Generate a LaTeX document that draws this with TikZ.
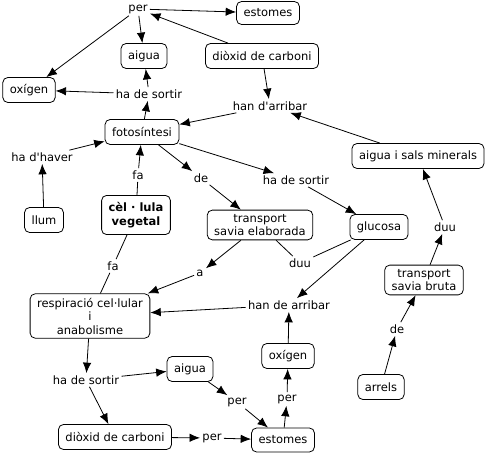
\documentclass[tikz,border=0pt]{standalone}
\usepackage{fontspec}
\setmainfont{DejaVu Sans}
\usetikzlibrary{arrows.meta}

\begin{document}
\begin{tikzpicture}[x=1pt,y=-1pt,line width=0.8pt,>={Latex[length=10.5pt,width=8.5pt]},
    every node/.style={font=\fontsize{11.5}{13.5}\selectfont},
    concept/.style={draw,rounded corners=5pt,align=center,inner xsep=7pt,inner ysep=4pt,minimum height=25pt},
    linkword/.style={inner sep=2pt,align=center}]
                \useasboundingbox (0,0) rectangle (487,454);
                \node[linkword] (perA) at (138,9) {per};
                \node[concept,minimum height=23pt] (estomesA) at (268,13) {estomes};
                \node[concept] (aiguaA) at (144,56) {aigua};
                \node[concept] (dioxidA) at (262,56) {diòxid de carboni};
                \node[concept] (oxigenA) at (29,90) {oxígen};
                \node[linkword] (sortirA) at (149,94) {ha de sortir};
                \node[linkword] (arribarA) at (270,106) {han d\textquotesingle arribar};
                \node[concept] (fotosintesi) at (142,132) {fotosíntesi};
                \node[concept] (sals) at (418,156) {aigua i sals minerals};
                \node[linkword] (haver) at (42,157) {ha d\textquotesingle haver};
                \node[linkword] (faA) at (138,175) {fa};
                \node[linkword] (deA) at (201,178) {de};
                \node[linkword] (sortirB) at (296,180) {ha de sortir};
                \node[concept] (llum) at (44,220) {llum};
                \node[concept,font=\fontsize{11.5}{13.5}\selectfont\bfseries,inner ysep=7pt] (cellula) at (136,215) {cèl · lula\\vegetal};
                \node[concept] (elaborada) at (260,225) {transport\\savia elaborada};
                \node[concept] (glucosa) at (379,227) {glucosa};
                \node[linkword] (duuB) at (445,227) {duu};
                \node[linkword] (duuA) at (300,263) {duu};
                \node[concept] (bruta) at (424,280) {transport\\savia bruta};
                \node[linkword] (faB) at (113,266) {fa};
                \node[linkword] (aA) at (200,273) {a};
                \node[concept] (respiracio) at (90,316) {respiració cel·lular\\i\\anabolisme};
                \node[linkword] (arribarB) at (289,305) {han de arribar};
                \node[linkword] (deB) at (397,329) {de};
                \node[concept] (oxigenB) at (288,356) {oxígen};
                \node[concept] (aiguaB) at (190,369) {aigua};
                \node[linkword] (sortirC) at (86,380) {ha de sortir};
                \node[concept] (arrels) at (381,387) {arrels};
                \node[linkword] (perB) at (237,402) {per};
                \node[linkword] (perD) at (287,399) {per};
                \node[concept] (dioxidB) at (115,437) {diòxid de carboni};
                \node[linkword] (perC) at (212,438) {per};
                \node[concept,minimum height=24pt] (estomesB) at (283,440) {estomes};
                \draw[->] (perA) -- (estomesA);
                \draw[->] (perA) -- (aiguaA);
                \draw[->] (perA) -- (oxigenA);
                \draw[->] (dioxidA) -- (perA);
                \draw[->] (dioxidA) -- (arribarA);
                \draw[->] (sals) -- (arribarA);
                \draw[->] (arribarA) -- (fotosintesi);
                \draw[->] (fotosintesi) -- (sortirA);
                \draw[->] (sortirA) -- (aiguaA);
                \draw[->] (sortirA) -- (oxigenA);
                \draw[->] (haver) -- (fotosintesi);
                \draw[->] (llum) -- (haver);
                \draw (cellula) -- (faA);
                \draw[->] (faA) -- (fotosintesi);
                \draw[->] (fotosintesi) -- (deA);
                \draw[->] (deA) -- (elaborada);
                \draw[->] (fotosintesi) -- (sortirB);
                \draw[->] (sortirB) -- (glucosa);
                \draw[->] (elaborada) -- (aA);
                \draw[->] (aA) -- (respiracio);
                \draw (elaborada) -- (duuA);
                \draw (duuA) -- (glucosa);
                \draw[->] (glucosa) -- (arribarB);
                \draw[->] (arribarB) -- (respiracio);
                \draw[->] (oxigenB) -- (arribarB);
                \draw (cellula) -- (faB);
                \draw (faB) -- (respiracio);
                \draw[->] (respiracio) -- (sortirC);
                \draw[->] (sortirC) -- (aiguaB);
                \draw[->] (sortirC) -- (dioxidB);
                \draw[->] (aiguaB) -- (perB);
                \draw[->] (perB) -- (estomesB);
                \draw[->] (dioxidB) -- (perC);
                \draw[->] (perC) -- (estomesB);
                \draw[->] (estomesB) -- (perD);
                \draw[->] (perD) -- (oxigenB);
                \draw[->] (arrels) -- (deB);
                \draw[->] (deB) -- (bruta);
                \draw[->] (bruta) -- (duuB);
                \draw[->] (duuB) -- (sals);
            \end{tikzpicture}
\end{document}
